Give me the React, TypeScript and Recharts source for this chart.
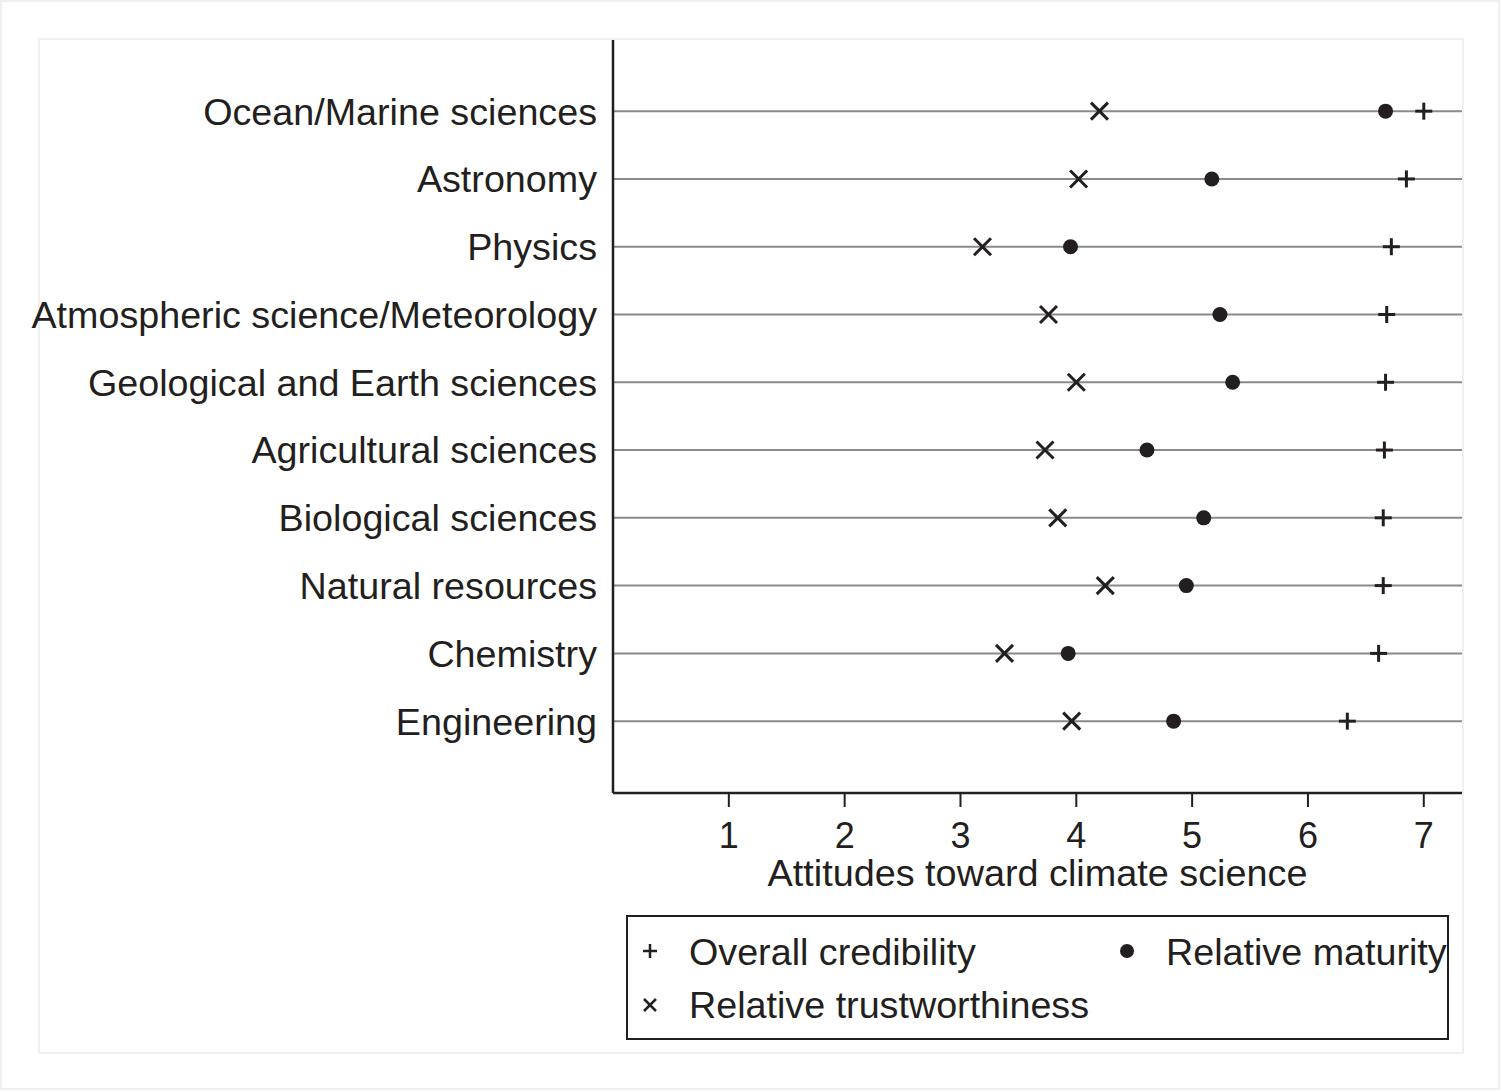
import React from 'react';
import {
  ScatterChart,
  Scatter,
  XAxis,
  YAxis,
  ReferenceLine,
  Legend,
  Label,
} from 'recharts';

const categories = [
  'Ocean/Marine sciences',
  'Astronomy',
  'Physics',
  'Atmospheric science/Meteorology',
  'Geological and Earth sciences',
  'Agricultural sciences',
  'Biological sciences',
  'Natural resources',
  'Chemistry',
  'Engineering',
];

const overallCredibility = [7.0, 6.85, 6.72, 6.68, 6.67, 6.66, 6.65, 6.65, 6.61, 6.34];
const relativeMaturity = [6.67, 5.17, 3.95, 5.24, 5.35, 4.61, 5.1, 4.95, 3.93, 4.84];
const relativeTrustworthiness = [4.2, 4.02, 3.19, 3.76, 4.0, 3.73, 3.84, 4.25, 3.38, 3.96];

const xTicks = [1, 2, 3, 4, 5, 6, 7];

const FONT = '"Liberation Sans", Arial, Helvetica, sans-serif';
const INK = '#231f20';

const toPoints = (values: number[]) => values.map((v, i) => ({ x: v, y: i }));

const credData = toPoints(overallCredibility);
const matData = toPoints(relativeMaturity);
const trustData = toPoints(relativeTrustworthiness);
const yTicks = categories.map((_, i) => i);

const PlusShape = (props: any) => {
  const { cx, cy } = props;
  const a = 8.5;
  return (
    <g>
      <line x1={cx - a} y1={cy} x2={cx + a} y2={cy} stroke={INK} strokeWidth={3} />
      <line x1={cx} y1={cy - a} x2={cx} y2={cy + a} stroke={INK} strokeWidth={3} />
    </g>
  );
};

const CrossShape = (props: any) => {
  const { cx, cy } = props;
  const a = 8.5;
  return (
    <g>
      <line x1={cx - a} y1={cy - a} x2={cx + a} y2={cy + a} stroke={INK} strokeWidth={3} />
      <line x1={cx - a} y1={cy + a} x2={cx + a} y2={cy - a} stroke={INK} strokeWidth={3} />
    </g>
  );
};

const DotShape = (props: any) => {
  const { cx, cy } = props;
  return <circle cx={cx} cy={cy} r={7.5} fill={INK} />;
};

const LegendContent = () => {
  const textStyle: React.CSSProperties = {
    fontFamily: FONT,
    fontSize: 37.7,
    fill: INK,
  };
  return (
    <svg width={823} height={125} style={{ display: 'block' }}>
      <rect x={1} y={1} width={821} height={123} fill="#fff" stroke={INK} strokeWidth={2} />
      <g>
        <line x1={17} y1={36} x2={31} y2={36} stroke={INK} strokeWidth={2.5} />
        <line x1={24} y1={29} x2={24} y2={43} stroke={INK} strokeWidth={2.5} />
        <text x={63} y={37} dominantBaseline="central" style={textStyle}>Overall credibility</text>
      </g>
      <g>
        <circle cx={501} cy={36} r={7} fill={INK} />
        <text x={540} y={37} dominantBaseline="central" style={textStyle}>Relative maturity</text>
      </g>
      <g>
        <line x1={18} y1={84} x2={30} y2={96} stroke={INK} strokeWidth={2.5} />
        <line x1={18} y1={96} x2={30} y2={84} stroke={INK} strokeWidth={2.5} />
        <text x={63} y={90} dominantBaseline="central" style={textStyle}>Relative trustworthiness</text>
      </g>
    </svg>
  );
};

export default function App() {
  return (
    <div
      style={{
        position: 'absolute',
        left: 0,
        top: 0,
        width: 1502,
        height: 1092,
        background: '#fff',
        fontFamily: FONT,
      }}
    >
      <div
        style={{
          position: 'absolute',
          left: 0,
          top: 0,
          width: 1500,
          height: 1090,
          border: '2px solid #f0f0f0',
          boxSizing: 'border-box',
        }}
      />
      <div
        style={{
          position: 'absolute',
          left: 38,
          top: 38,
          width: 1426,
          height: 1016,
          border: '2px solid #f0f0f0',
          boxSizing: 'border-box',
        }}
      />
      <div style={{ position: 'absolute', left: 0, top: 0 }}>
        <ScatterChart
          width={1502}
          height={1092}
          margin={{ top: 40, right: 40, bottom: 199, left: 40 }}
        >
          {yTicks.map((i) => (
            <ReferenceLine
              key={`grid-${i}`}
              y={i}
              stroke="#8a8a8a"
              strokeWidth={2}
              ifOverflow="extendDomain"
            />
          ))}
          <XAxis
            type="number"
            dataKey="x"
            domain={[0, 7.33]}
            ticks={xTicks}
            allowDataOverflow
            height={100}
            tickSize={14}
            tickMargin={15}
            axisLine={{ stroke: INK, strokeWidth: 2.5 }}
            tickLine={{ stroke: INK, strokeWidth: 2 }}
            tick={{ fill: INK, fontSize: 36, fontFamily: FONT }}
          >
            <Label
              value="Attitudes toward climate science"
              position="insideBottom"
              offset={7}
              style={{ fill: INK, fontSize: 37.8, fontFamily: FONT }}
            />
          </XAxis>
          <YAxis
            type="number"
            dataKey="y"
            domain={[-1.05, 10.06]}
            reversed
            ticks={yTicks}
            interval={0}
            allowDataOverflow
            width={573}
            tickSize={0}
            tickMargin={16}
            tickLine={false}
            axisLine={{ stroke: INK, strokeWidth: 2.5 }}
            tickFormatter={(v: number) => categories[v] ?? ''}
            tick={{ fill: INK, fontSize: 37.7, fontFamily: FONT }}
          />
          <Legend
            layout="vertical"
            align="center"
            verticalAlign="middle"
            content={() => <LegendContent />}
            wrapperStyle={{ position: 'absolute', left: 626, top: 915, width: 823, height: 125 }}
          />
          <Scatter
            name="Overall credibility"
            data={credData}
            shape={PlusShape}
            isAnimationActive={false}
          />
          <Scatter
            name="Relative maturity"
            data={matData}
            shape={DotShape}
            isAnimationActive={false}
          />
          <Scatter
            name="Relative trustworthiness"
            data={trustData}
            shape={CrossShape}
            isAnimationActive={false}
          />
        </ScatterChart>
      </div>
    </div>
  );
}
